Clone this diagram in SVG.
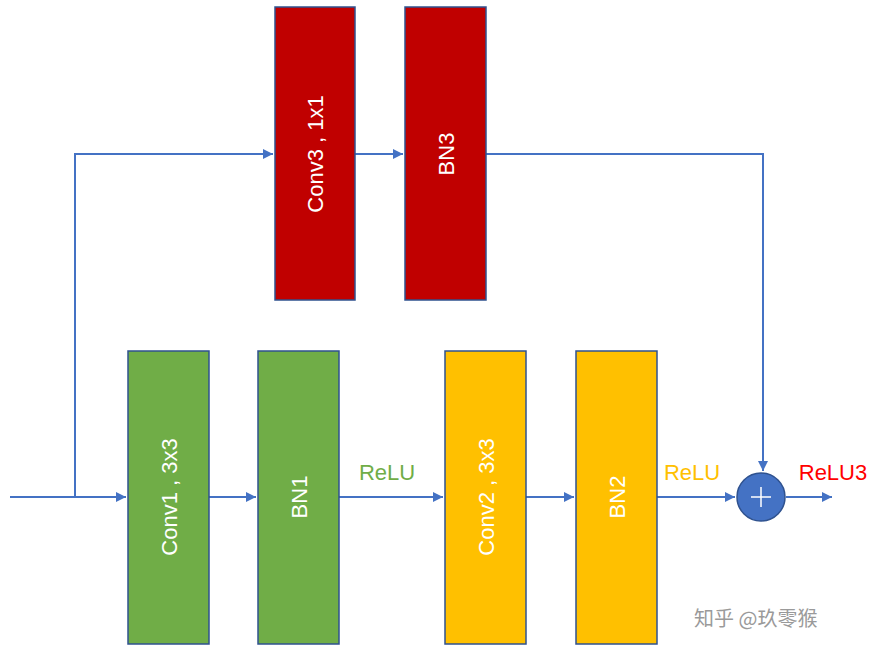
<svg xmlns="http://www.w3.org/2000/svg" width="878" height="652" viewBox="0 0 878 652">
<style>
.box{stroke:#2f528f;stroke-width:1.5}
.r{fill:#c00000}.g{fill:#70ad47}.y{fill:#ffc000}
.t{fill:#fff;font-family:"Liberation Sans",Arial,sans-serif;font-size:22px;text-anchor:middle;dominant-baseline:central}
.c{fill:none;stroke:#4472c4;stroke-width:2}
.l{font-family:"Liberation Sans",Arial,sans-serif;font-size:22px;text-anchor:middle}
</style>
<defs><marker id="a" viewBox="0 0 10 10" refX="10" refY="5" markerWidth="5" markerHeight="5" orient="auto"><path d="M0,0L10,5L0,10z" fill="#4472c4"/></marker></defs>
<rect width="878" height="652" fill="#fff"/>
<g id="connectors">
<path class="c" d="M10,497H126" marker-end="url(#a)"/>
<path class="c" d="M75,497V154H273" marker-end="url(#a)"/>
<path class="c" d="M355,154H403" marker-end="url(#a)"/>
<path class="c" d="M486,154H763V471" marker-end="url(#a)"/>
<path class="c" d="M209,497H256" marker-end="url(#a)"/>
<path class="c" d="M339,497H443" marker-end="url(#a)"/>
<path class="c" d="M526,497H574" marker-end="url(#a)"/>
<path class="c" d="M657,497H735" marker-end="url(#a)"/>
<path class="c" d="M786,497H832" marker-end="url(#a)"/>
</g>
<g id="conv3"><rect class="box r" x="275" y="7" width="80" height="293"/><text class="t" transform="translate(315,154) rotate(-90)">Conv3 , 1x1</text></g>
<g id="bn3"><rect class="box r" x="405" y="7" width="81" height="293"/><text class="t" transform="translate(446,154) rotate(-90)">BN3</text></g>
<g id="conv1"><rect class="box g" x="128" y="351" width="81" height="293"/><text class="t" transform="translate(169,497) rotate(-90)">Conv1 , 3x3</text></g>
<g id="bn1"><rect class="box g" x="258" y="351" width="81" height="293"/><text class="t" transform="translate(299,497) rotate(-90)">BN1</text></g>
<g id="conv2"><rect class="box y" x="445" y="351" width="81" height="293"/><text class="t" transform="translate(486,497) rotate(-90)">Conv2 , 3x3</text></g>
<g id="bn2"><rect class="box y" x="576" y="351" width="81" height="293"/><text class="t" transform="translate(617,497) rotate(-90)">BN2</text></g>
<g id="add"><circle cx="761" cy="497" r="24" fill="#4472c4" stroke="#2f528f" stroke-width="1.5"/><path d="M751,497H771M761,487V507" stroke="#fff" stroke-width="1.5"/></g>
<text class="l" x="387" y="480" fill="#70ad47">ReLU</text>
<text class="l" x="692" y="480" fill="#ffc000">ReLU</text>
<text class="l" x="833" y="480" fill="#ff0000">ReLU3</text>
<text x="694" y="626" fill="#9a9a9a" font-family="'Noto Sans CJK SC',sans-serif" font-size="20">知乎 @玖零猴</text>
</svg>
